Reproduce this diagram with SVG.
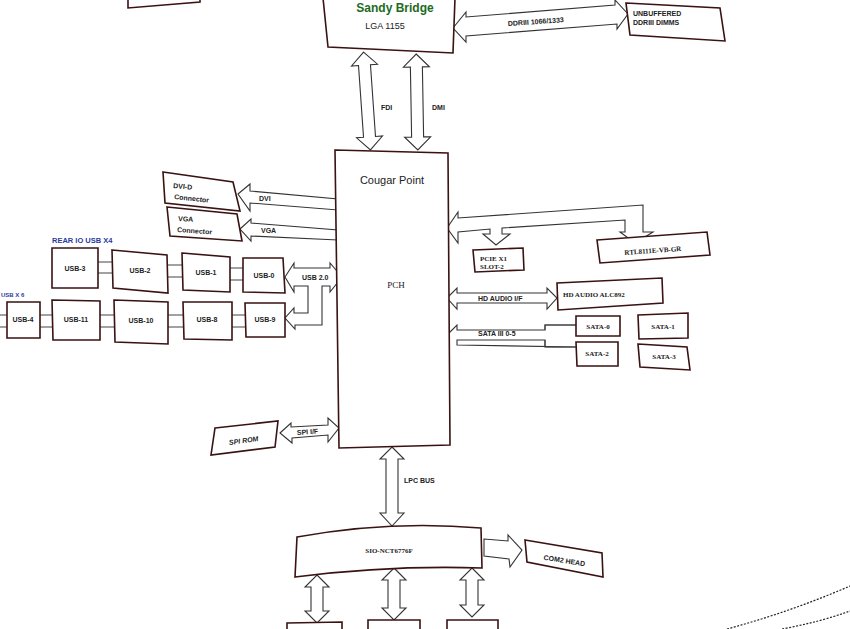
<svg xmlns="http://www.w3.org/2000/svg" width="850" height="629" viewBox="0 0 850 629">
<style>
.box{fill:#fff;stroke:#3a1212;stroke-width:1.6}
.arr{fill:#fff;stroke:#333;stroke-width:1.1;stroke-linejoin:miter}
.ln{fill:none;stroke:#444;stroke-width:1.1}
.t{font-family:"Liberation Sans",Arial,sans-serif;font-size:7px;font-weight:bold;fill:#222}
.ts{font-family:"Liberation Serif","Times New Roman",serif;font-size:7px;font-weight:bold;fill:#222}
.dash{fill:none;stroke:#222;stroke-width:1.2;stroke-dasharray:2 1.5}
</style>
<rect width="850" height="629" fill="#fff"/>

<g id="connectors">
  <path class="arr" d="M453,28 L466,12 L466,17 L615,5 L615,0 L628,14 L617,29 L617,24 L466,36 L466,42 Z"/>
  <text class="t" transform="translate(508,26) rotate(-4)" font-size="7">DDRIII 1066/1333</text>
  <path class="arr" transform="translate(367,101) rotate(-4)" d="M0,-49 L13,-36 L6,-36 L6,36 L13,36 L0,49 L-13,36 L-6,36 L-6,-36 L-13,-36 Z"/>
  <text class="t" x="381" y="110" font-weight="normal">FDI</text>
  <path class="arr" transform="translate(417,102) rotate(-1)" d="M0,-48 L13,-35 L6,-35 L6,35 L13,35 L0,48 L-13,35 L-6,35 L-6,-35 L-13,-35 Z"/>
  <text class="t" x="432" y="110" font-weight="normal">DMI</text>
  <path class="arr" d="M238,194 L250,184 L250,191 L338,199 L338,210 L250,203 L250,211 Z"/>
  <text class="t" x="259" y="201" font-size="6">DVI</text>
  <path class="arr" d="M240,229 L251,219 L251,223 L338,230 L338,240 L251,236 L251,241 Z"/>
  <text class="t" x="261" y="233" font-size="6">VGA</text>
  <path class="ln" d="M98,262 L112,262 M98,273 L112,273 M168,265 L182,265 M168,277 L182,277 M230,268 L243,268 M230,280 L243,280"/>
  <path class="ln" d="M0,315 L7,315 M0,327 L7,327 M40,315 L52,315 M40,327 L52,327 M100,315 L114,315 M100,327 L114,327 M168,315 L183,315 M168,327 L183,327 M232,315 L245,315 M232,327 L245,327"/>
  <path class="arr" d="M285,277 L294,263 L294,268 L330,268 L330,263 L342,277 L330,292 L330,286 L322,286 L322,325 L295,325 L295,329 L285,318 L294,308 L294,313 L308,313 L308,286 L294,286 L294,292 Z"/>
  <text class="t" x="302" y="280" font-size="6">USB 2.0</text>
  <path class="arr" d="M447,228 L458,212 L458,218 L643,205 L643,232 L653,232 L635,243 L620,232 L625,232 L625,220 L502,228 L502,234 L510,234 L496,245 L483,234 L490,234 L490,229 L458,232 L458,243 Z"/>
  <path class="arr" d="M447,298 L457,288 L457,293 L547,293 L547,288 L557,298 L547,309 L547,303 L457,303 L457,309 Z"/>
  <text class="t" x="478" y="301" font-size="6">HD AUDIO I/F</text>
  <path class="arr" d="M447,335 L457,325 L457,330 L545,330 L545,325 L576,325 M576,347 L545,347 L545,340 L457,340 L457,345 Z"/>
  <path class="ln" d="M545,330 L545,325 L576,325 M545,340 L545,347 L576,347"/>
  <text class="t" x="478" y="336" font-size="5.5">SATA III 0-5</text>
  <path class="arr" d="M280,433 L291,423 L291,427 L328,425 L328,418 L339,428 L328,442 L328,435 L292,438 L292,443 Z"/>
  <text class="t" transform="translate(297,435) rotate(-4)" font-size="6">SPI I/F</text>
  <path class="arr" d="M392,447 L404,459 L398,459 L398,513 L404,513 L392,526 L380,513 L386,513 L386,459 L380,459 Z"/>
  <text class="t" x="404" y="483" font-size="5.5">LPC BUS</text>
  <path class="arr" d="M484,539 L508,541 L508,535 L522,550 L510,567 L509,559 L484,556 Z"/>
  <path class="arr" d="M317,575 L329,587 L323,587 L323,611 L329,611 L317,623 L305,611 L311,611 L311,587 L305,587 Z"/>
  <path class="arr" d="M394,568 L406,580 L400,580 L400,608 L406,608 L394,620 L382,608 L388,608 L388,580 L382,580 Z"/>
  <path class="arr" d="M472,568 L484,580 L478,580 L478,605 L484,605 L472,617 L460,605 L466,605 L466,580 L460,580 Z"/>
</g>

<g id="sandy-bridge">
  <path class="box" d="M323,-2 L455,-2 L453,53 L328,47 Z"/>
  <text x="395" y="12" text-anchor="middle" font-family="Liberation Sans,Arial,sans-serif" font-size="12" font-weight="bold" fill="#1d6b1d">Sandy Bridge</text>
  <text x="385" y="29" text-anchor="middle" font-family="Liberation Sans,Arial,sans-serif" font-size="9" fill="#222">LGA 1155</text>
</g>
<g id="top-left-box">
  <path class="box" d="M128,-2 L200,-2 L200,2 L128,8 Z"/>
</g>
<g id="dimms">
  <path class="box" d="M626,3 L720,8 L725,41 L630,35 Z"/>
  <text class="t" x="633" y="16" font-size="6.5">UNBUFFERED</text>
  <text class="t" x="633" y="25" font-size="6.5">DDRIII DIMMS</text>
</g>
<g id="pch">
  <path class="box" d="M335,150 L448,153 L450,445 L339,448 Z"/>
  <text x="392" y="184" text-anchor="middle" font-family="Liberation Sans,Arial,sans-serif" font-size="11" fill="#222">Cougar Point</text>
  <text x="396" y="288" text-anchor="middle" font-family="Liberation Serif,serif" font-size="9" fill="#222">PCH</text>
</g>
<g id="dvi">
  <path class="box" d="M163,172 L233,182 L240,211 L165,203 Z"/>
  <text class="t" transform="translate(173,188) rotate(5)" font-size="7.5">DVI-D</text>
  <text class="t" transform="translate(174,199) rotate(6)" font-size="7.5">Connector</text>
</g>
<g id="vga">
  <path class="box" d="M167,207 L237,214 L242,241 L170,236 Z"/>
  <text class="t" transform="translate(178,221) rotate(3)" font-size="7.5">VGA</text>
  <text class="t" transform="translate(177,232) rotate(4)" font-size="7.5">Connector</text>
</g>
<text x="52" y="243" font-family="Liberation Sans,Arial,sans-serif" font-size="7.5" font-weight="bold" fill="#2a3aa0">REAR IO USB X4</text>
<text x="1" y="297" font-family="Liberation Sans,Arial,sans-serif" font-size="6" font-weight="bold" fill="#2a3aa0">USB X 6</text>
<g id="usb3"><path class="box" d="M52,248 L98,248 L98,288 L52,288 Z"/><text class="t" x="75" y="271" text-anchor="middle">USB-3</text></g>
<g id="usb2"><path class="box" d="M112,250 L167,255 L168,293 L113,288 Z"/><text class="t" x="140" y="273" text-anchor="middle">USB-2</text></g>
<g id="usb1"><path class="box" d="M182,253 L230,257 L230,292 L183,290 Z"/><text class="t" x="206" y="275" text-anchor="middle">USB-1</text></g>
<g id="usb0"><path class="box" d="M243,258 L283,258 L285,293 L243,292 Z"/><text class="t" x="264" y="278" text-anchor="middle">USB-0</text></g>
<g id="usb4"><path class="box" d="M7,302 L40,302 L40,338 L7,338 Z"/><text class="t" x="23" y="322" text-anchor="middle" font-size="6.5">USB-4</text></g>
<g id="usb11"><path class="box" d="M52,300 L100,301 L100,340 L53,340 Z"/><text class="t" x="76" y="322" text-anchor="middle">USB-11</text></g>
<g id="usb10"><path class="box" d="M114,300 L168,302 L168,344 L115,342 Z"/><text class="t" x="141" y="323" text-anchor="middle">USB-10</text></g>
<g id="usb8"><path class="box" d="M183,302 L232,302 L232,340 L184,339 Z"/><text class="t" x="207" y="322" text-anchor="middle">USB-8</text></g>
<g id="usb9"><path class="box" d="M245,303 L285,303 L285,337 L246,337 Z"/><text class="t" x="265" y="322" text-anchor="middle">USB-9</text></g>

<g id="pcie">
  <path class="box" d="M473,250 L523,248 L524,270 L475,272 Z"/>
  <text class="ts" x="480" y="261" font-size="6">PCIE X1</text>
  <text class="ts" x="480" y="269" font-size="6">SLOT-2</text>
</g>
<g id="rtl">
  <path class="box" d="M597,240 L707,232 L710,255 L600,263 Z"/>
  <text class="ts" transform="translate(653,253) rotate(-4)" text-anchor="middle" font-size="6.5">RTL8111E-VB-GR</text>
</g>
<g id="hdaudio">
  <path class="box" d="M557,283 L662,278 L663,303 L558,310 Z"/>
  <text class="ts" x="563" y="297" font-size="6.5">HD AUDIO ALC892</text>
</g>
<g id="sata0"><path class="box" d="M576,316 L620,316 L620,336 L576,336 Z"/><text class="ts" x="598" y="329" text-anchor="middle" font-size="6.5">SATA-0</text></g>
<g id="sata1"><path class="box" d="M638,315 L688,313 L688,338 L639,339 Z"/><text class="ts" x="663" y="329" text-anchor="middle" font-size="6.5">SATA-1</text></g>
<g id="sata2"><path class="box" d="M576,342 L618,342 L618,366 L577,366 Z"/><text class="ts" x="597" y="356" text-anchor="middle" font-size="6.5">SATA-2</text></g>
<g id="sata3"><path class="box" d="M638,344 L687,347 L690,370 L640,367 Z"/><text class="ts" x="664" y="359" text-anchor="middle" font-size="6.5">SATA-3</text></g>

<g id="spirom">
  <path class="box" d="M215,428 L278,421 L275,447 L211,455 Z"/>
  <text class="t" transform="translate(244,443) rotate(-8)" text-anchor="middle" font-size="7" font-style="italic">SPI ROM</text>
</g>
<g id="sio">
  <path class="box" d="M297,537 Q390,520 481,528 L482,568 Q390,565 295,577 Z"/>
  <text class="ts" x="389" y="553" text-anchor="middle" font-size="6.5">SIO-NCT6776F</text>
</g>
<g id="com2">
  <path class="box" d="M525,540 L602,553 L603,577 L527,562 Z"/>
  <text class="t" transform="translate(564,563) rotate(9)" text-anchor="middle" font-size="7.5">COM2 HEAD</text>
</g>
<g id="bottom1"><path class="box" d="M287,623 L342,622 L342,631 L287,631 Z"/></g>
<g id="bottom2"><path class="box" d="M368,620 L420,620 L420,631 L368,631 Z"/></g>
<g id="bottom3"><path class="box" d="M447,620 L498,620 L498,631 L447,631 Z"/></g>

<path class="dash" d="M727,629 Q790,612 850,586"/>
<path class="dash" d="M782,629 Q820,622 850,611"/>
</svg>
